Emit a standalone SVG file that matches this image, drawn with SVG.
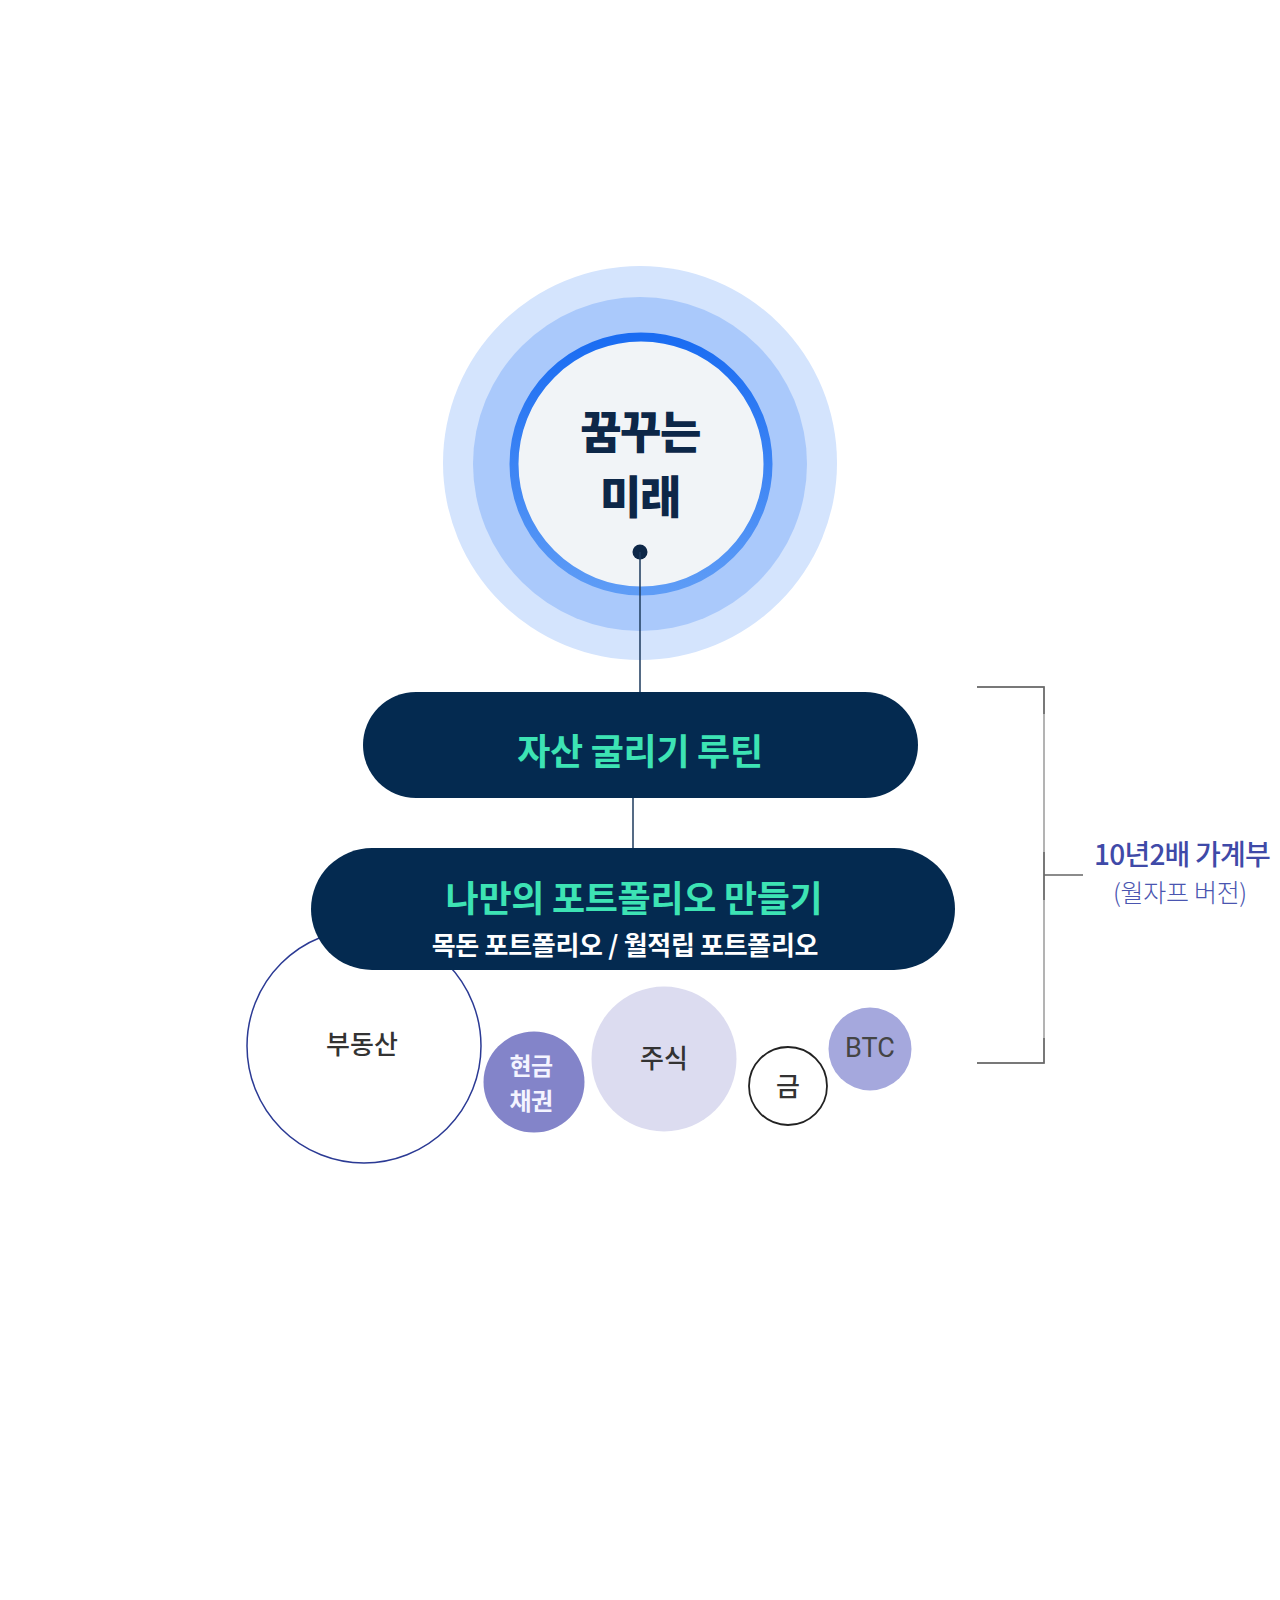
<svg xmlns="http://www.w3.org/2000/svg" width="1280" height="1600" viewBox="0 0 1280 1600">
<style>
.ko{font-family:"Noto Sans CJK KR","Noto Sans",sans-serif;}
.pill{fill:#042a50;}
.mint{fill:#3de3b4;font-weight:700;font-size:36px;letter-spacing:-0.3px;text-anchor:middle;}
.sub{fill:#ffffff;font-weight:700;font-size:26px;letter-spacing:-0.3px;text-anchor:middle;}
.lbl{fill:#333333;font-size:26px;text-anchor:middle;font-weight:500;}
.conn{stroke:#1d3a5c;stroke-width:1.5;fill:none;}
.br{stroke:#9a9a9a;stroke-width:1.5;fill:none;}
.brd{stroke:#666666;stroke-width:1.5;fill:none;}
</style>
<defs>
<linearGradient id="ring" x1="0" y1="0" x2="0" y2="1">
<stop offset="0" stop-color="#1a6cf2"/>
<stop offset="1" stop-color="#5e9cf6"/>
</linearGradient>
</defs>
<rect width="1280" height="1600" fill="#ffffff"/>

<g id="node-future">
<circle cx="640" cy="463" r="197" fill="#d4e4fd"/>
<circle cx="640" cy="464" r="167" fill="#aac9fb"/>
<circle cx="641" cy="464" r="127" fill="#f1f4f7" stroke="url(#ring)" stroke-width="9"/>
<text class="ko" x="640" y="449" font-size="45" font-weight="800" fill="#0d2748" text-anchor="middle" letter-spacing="-1.5">꿈꾸는</text>
<text class="ko" x="640" y="514" font-size="45" font-weight="800" fill="#0d2748" text-anchor="middle" letter-spacing="-1.5">미래</text>
<circle cx="640" cy="552" r="7.5" fill="#0d2748"/>
</g>

<g id="connectors">
<line class="conn" x1="640" y1="552" x2="640" y2="693"/>
<line class="conn" x1="633" y1="797" x2="633" y2="849"/>
<path class="br" d="M977 687 H1044 V1063 H977"/>
<path class="brd" d="M977 687 H1044 V714 M1044 852 V900 M1044 1038 V1063 H977 M1044 875 H1083"/>
</g>

<g id="node-realestate">
<circle cx="364" cy="1046" r="117" fill="#ffffff" stroke="#2b3a94" stroke-width="1.5"/>
<text class="ko lbl" x="362" y="1054">부동산</text>
</g>

<g id="node-routine">
<rect class="pill" x="363" y="692" width="555" height="106" rx="53"/>
<text class="ko mint" x="640" y="765">자산 굴리기 루틴</text>
</g>

<g id="node-portfolio">
<rect class="pill" x="311" y="848" width="644" height="122" rx="61"/>
<text class="ko mint" x="634" y="912">나만의 포트폴리오 만들기</text>
<text class="ko sub" x="625" y="955">목돈 포트폴리오 / 월적립 포트폴리오</text>
</g>

<g id="node-cash">
<circle cx="534" cy="1082" r="50.5" fill="#8384c9"/>
<text class="ko" x="531" y="1075" font-size="24" font-weight="700" fill="#f4f4ff" text-anchor="middle" letter-spacing="-0.5">현금</text>
<text class="ko" x="531" y="1110" font-size="24" font-weight="700" fill="#f4f4ff" text-anchor="middle" letter-spacing="-0.5">채권</text>
</g>

<g id="node-stock">
<circle cx="664" cy="1059" r="72.5" fill="#dcdcf0"/>
<text class="ko lbl" x="664" y="1068" font-size="28">주식</text>
</g>

<g id="node-gold">
<circle cx="788" cy="1086" r="39" fill="#ffffff" stroke="#222222" stroke-width="1.8"/>
<text class="ko lbl" x="788" y="1096">금</text>
</g>

<g id="node-btc">
<circle cx="870" cy="1049" r="41.5" fill="#a5a8dd"/>
<text x="870" y="1057" font-family="Roboto,'Liberation Sans',sans-serif" font-size="27" fill="#444444" text-anchor="middle">BTC</text>
</g>

<g id="note">
<text class="ko" x="1182" y="865" font-size="28" font-weight="500" fill="#3f4aa8" text-anchor="middle" letter-spacing="-0.8">10년2배 가계부</text>
<text class="ko" x="1180" y="902" font-size="25" font-weight="300" fill="#4a55b0" text-anchor="middle" letter-spacing="-0.3">(월자프 버전)</text>
</g>
</svg>
